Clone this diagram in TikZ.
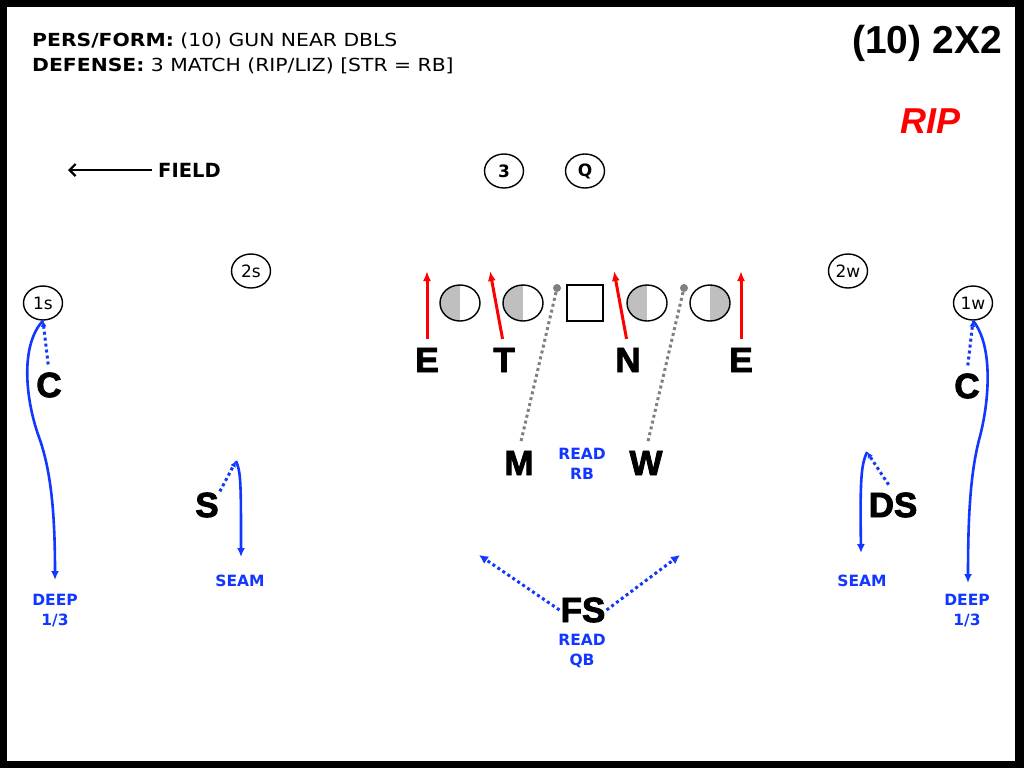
\documentclass[tikz,border=0pt]{standalone}
\usepackage{fontspec}
\setmainfont{DejaVu Sans}
\newfontfamily\verd[FakeStretch=1.13]{DejaVu Sans}
\newfontfamily\plfont[FakeBold=2.5]{Liberation Sans Bold}
\newfontfamily\arialf{Liberation Sans}
\usetikzlibrary{shapes.geometric,arrows.meta}
\definecolor{pblue}{RGB}{18,56,255}
\definecolor{pred}{RGB}{255,0,0}
\definecolor{lgray}{RGB}{191,191,191}
\definecolor{dgray}{RGB}{128,128,128}
\tikzset{
 player/.style={font=\plfont\fontsize{35}{35}\selectfont, inner sep=1pt},
 circ/.style={ellipse, draw, line width=1.4pt, minimum width=39pt, minimum height=34pt, inner sep=0pt, font=\fontsize{17}{17}\selectfont},
 circb/.style={circ, font=\bfseries\fontsize{17}{17}\selectfont},
 oline/.style={ellipse, draw, line width=1.4pt, minimum width=40pt, minimum height=36pt, inner sep=0pt},
 lefthalf/.style={path picture={\fill[lgray] (path picture bounding box.south west) rectangle (path picture bounding box.north);}},
 righthalf/.style={path picture={\fill[lgray] (path picture bounding box.south east) rectangle (path picture bounding box.north);}},
 lbl/.style={text=pblue, font=\bfseries\fontsize{15.5}{20}\selectfont, align=center, inner sep=0pt},
 redarrow/.style={draw=pred, line width=3pt, -{Latex[length=10pt,width=8pt]}},
 bluepath/.style={draw=pblue, line width=2.6pt, -{Latex[length=9pt,width=8pt]}},
 bluedot/.style={draw=pblue, line width=3pt, dash pattern=on 3pt off 3pt, -{Latex[length=6pt,width=6pt]}},
 bluedotbig/.style={draw=pblue, line width=3pt, dash pattern=on 3pt off 3pt, -{Latex[length=9pt,width=9pt]}},
 graydot/.style={draw=dgray, line width=3pt, dash pattern=on 3pt off 3pt},
 gdot/.style={circle, fill=dgray, inner sep=0pt, minimum size=8pt},
}
\begin{document}
\begin{tikzpicture}[x=1pt,y=-1pt]
\useasboundingbox (0,0) rectangle (1024,768);
\fill[black] (0,0) rectangle (1024,768);
\fill[white] (7,7) rectangle (1015,761);

% header
\node[anchor=base west, font=\verd\fontsize{18}{18}\selectfont, inner sep=0pt] (pers) at (32,46) {\textbf{PERS/FORM:} (10) GUN NEAR DBLS};
\node[anchor=base west, font=\verd\fontsize{18}{18}\selectfont, inner sep=0pt] (def) at (32,71) {\textbf{DEFENSE:} 3 MATCH (RIP/LIZ) [STR = RB]};
\node[anchor=base east, font=\arialf\bfseries\fontsize{39}{39}\selectfont, inner sep=0pt] (title) at (1002,53) {(10) 2X2};
\node[anchor=base, text=pred, font=\arialf\bfseries\itshape\fontsize{36}{36}\selectfont, inner sep=0pt] (rip) at (930,133) {RIP};

% field arrow
\node[anchor=west, font=\bfseries\fontsize{19.5}{19.5}\selectfont, inner sep=0pt] (field) at (158,170) {FIELD};
\coordinate (fieldtip) at (68,170);
\draw[line width=2.2pt, -{Straight Barb[length=6pt,width=12pt]}, shorten <=6pt] (field.west) -- (fieldtip);

% offensive players
\node[circb] (three) at (504,171) {3};
\node[circb] (qb) at (585,171) {Q};
\node[circ] (s2) at (251,271) {2s};
\node[circ] (w2) at (848,271) {2w};
\node[circ] (s1) at (43,303) {1s};
\node[circ] (w1) at (973,303) {1w};

\node[oline,lefthalf] (o1) at (460,303) {};
\node[oline,lefthalf] (o2) at (523,303) {};
\node[draw, line width=1.4pt, minimum size=36pt, inner sep=0pt] (ctr) at (585,303) {};
\node[oline,lefthalf] (o4) at (647,303) {};
\node[oline,righthalf] (o5) at (710,303) {};
\node[gdot] (d1) at (557,288) {};
\node[gdot] (d2) at (684,288) {};

% defensive players
\node[player] (eL) at (427,360) {E};
\node[player] (tk) at (504,360) {T};
\node[player] (nt) at (628,360) {N};
\node[player] (eR) at (741,360) {E};
\node[player] (mk) at (519,463) {M};
\node[player] (wk) at (646,463) {W};
\node[player] (cL) at (49,385) {C};
\node[player] (cR) at (967,386) {C};
\node[player] (ss) at (207,505) {S};
\node[player] (ds) at (893,505) {DS};
\node[player] (fs) at (583,610) {FS};

% labels
\node[lbl] (readrb) at (582,464) {READ\\RB};
\node[lbl] (readqb) at (582,651) {READ\\QB};
\node[lbl] (deepL) at (55,611) {DEEP\\1/3};
\node[lbl] (deepR) at (967,611) {DEEP\\1/3};
\node[lbl] (seamL) at (240,581) {SEAM};
\node[lbl] (seamR) at (862,581) {SEAM};

% red rush arrows
\coordinate (eLt) at (427,271);
\coordinate (tkt) at (490,271);
\coordinate (ntt) at (614,271);
\coordinate (eRt) at (741,271);
\draw[redarrow, shorten <=8pt] (eL.north) -- (eLt);
\draw[redarrow, shorten <=8pt] (tk.north) -- (tkt);
\draw[redarrow, shorten <=8pt] (nt.north) -- (ntt);
\draw[redarrow, shorten <=8pt] (eR.north) -- (eRt);

% gray read lines
\draw[graydot, shorten >=6pt] (d1) -- (mk.north);
\draw[graydot, shorten >=6pt] (d2) -- (wk.north);

% left corner
\coordinate (deepLt) at (55,580);
\draw[bluedot, shorten <=7pt] (cL.north) -- (s1.south);
\draw[bluepath] (s1.south) .. controls (20,345) and (25,400) .. (40,440) .. controls (52,475) and (55,520) .. (deepLt);

% strong safety
\coordinate (sLt) at (236,461);
\coordinate (seamLt) at (241,557);
\draw[bluedot] (ss.north east) -- (sLt);
\draw[bluepath] (sLt) .. controls (241,472) and (241,485) .. (seamLt);

% right corner
\coordinate (deepRt) at (968,583);
\draw[bluedot, shorten <=7pt] (cR.north) -- (w1.south);
\draw[bluepath] (w1.south) .. controls (993,345) and (990,400) .. (979,440) .. controls (970,475) and (968,520) .. (deepRt);

% down safety
\coordinate (dsRt) at (867,452);
\coordinate (seamRt) at (861,553);
\draw[bluedot, shorten <=8pt] (ds.north) -- (dsRt);
\draw[bluepath] (dsRt) .. controls (861,465) and (860,480) .. (seamRt);

% free safety
\coordinate (fsLt) at (479,555);
\coordinate (fsRt) at (680,555);
\draw[bluedotbig] (fs.west) -- (fsLt);
\draw[bluedotbig] (fs.east) -- (fsRt);
\end{tikzpicture}
\end{document}
